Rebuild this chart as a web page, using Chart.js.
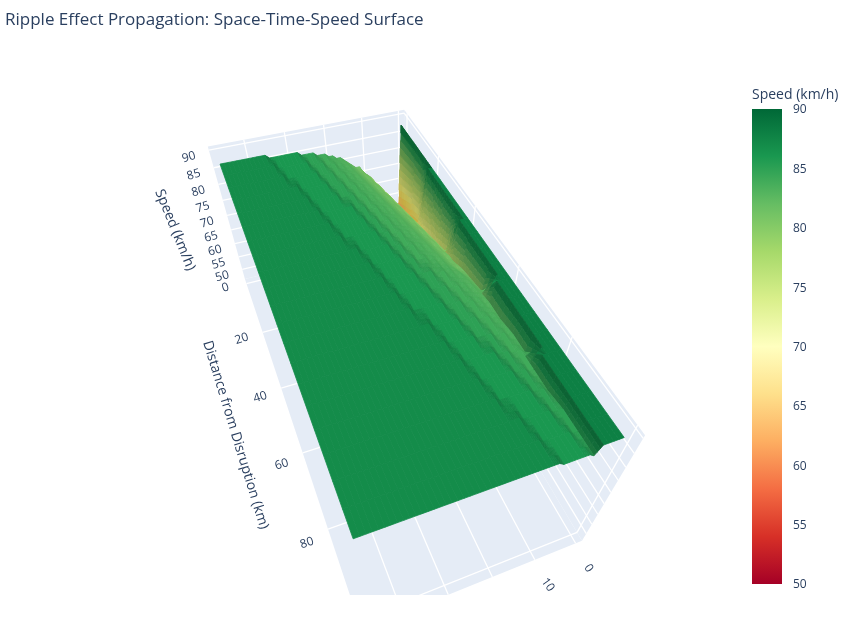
<!DOCTYPE html>
<html><head><meta charset="utf-8">
<script src="https://cdn.jsdelivr.net/npm/chart.js@4"></script>
<style>html,body{margin:0;padding:0;background:#fff;width:851px;height:644px;overflow:hidden}
canvas{position:absolute;display:block}</style></head>
<body>
<canvas id="main" width="851" height="644" style="left:0;top:0;width:851px;height:644px"></canvas>
<canvas id="bar" width="121" height="520" style="left:730px;top:80px;width:121px;height:520px"></canvas>
<script>
const titleText = "Ripple Effect Propagation: Space-Time-Speed Surface";
const colorTitle = "Speed (km/h)";
const distanceTitle = "Distance from Disruption (km)";
const speedTitle = "Speed (km/h)";
const distances = [0,5,10,15,20,25,30,35,40,45,50,55,60,65,70,75,80,85,90,95,100];
const times = [0,1,2,3,4,5,6,7,8,9,10,11,12,13,14,15,16,17,18,19,20,21,22,23,24,25,26,27,28,29,30,31,32,33,34,35,36,37,38,39,40,41,42,43,44,45,46,47];
const distanceTicks = [0,20,40,60,80,100];
const timeTicks = [0,10,20,30,40];
const speedTicks = [50,55,60,65,70,75,80,85,90];
const colorStops = ["#a50026","#d73027","#f46d43","#fdae61","#fee08b","#ffffbf","#d9ef8b","#a6d96a","#66bd63","#1a9850","#006837"];
const speedRange = [50,90];
const speedRows = [
[88,56,59,62,64,67,69,71,72,74,75,76,78,78,79,80,81,82,82,83,83,84,84,84,85,85,85,85, 86,86,86,86,86,86,86,86, 87,87,87,87,87,87,87,87,87,87,87,87],
[88,59,62,64,67,69,71,72,74,75,76,78,78,79,80,81,82,82,83,83,84,84,84,85,85,85,85, 86,86,86,86,86,86,86,86, 87,87,87,87,87,87,87,87,87,87,87,87,87],
[88,62,64,67,69,71,72,74,75,76,78,78,79,80,81,82,82,83,83,84,84,84,85,85,85,85, 86,86,86,86,86,86,86,86, 87,87,87,87,87,87,87,87,87,87,87,87,87,87],
[88,64,67,69,71,72,74,75,76,78,78,79,80,81,82,82,83,83,84,84,84,85,85,85,85, 86,86,86,86,86,86,86, 87,87,87,87,87,87,87,87,87,87,87,87,87,87,87,87],
[88,88,69,71,72,74,75,76,78,78,79,80,81,82,82,83,83,84,84,84,85,85,85,85, 86,86,86,86,86,86,86, 87,87,87,87,87,87,87,87,87,87,87,87,87,87,87,87,87],
[88,88,71,72,74,75,76,78,78,79,80,81,82,82,83,83,84,84,84,85,85,85, 86,86,86,86,86,86,86,86, 87,87,87,87,87,87,87,87,87,87,87,87,87,87,87,87,87,87],
[88,88,72,74,75,76,78,78,79,80,81,82,82,83,83,84,84,84,85,85,85, 86,86,86,86,86,86,86,86, 87,87,87,87,87,87,87,87,87,87,87,87,87,87,87,87,87,87,87],
[88,88,74,75,76,78,78,79,80,81,82,82,83,83,84,84,84,85,85,85, 86,86,86,86,86,86,86,86, 87,87,87,87,87,87,87,87,87,87,87,87,87,87,87,87,87,87,87,87],
[88,88,88,76,78,78,79,80,81,82,82,83,83,84,84,84,85,85,85, 86,86,86,86,86,86,86, 87,87,87,87,87,87,87,87,87,87,87,87,87,87,87,87,87,87,87,87,87,87],
[88,88,88,78,78,79,80,81,82,82,83,83,84,84,84,85,85,85, 86,86,86,86,86,86,86, 87,87,87,87,87,87,87,87,87,87,87,87,87,87,87,87,87,87,87,87,87,87,87],
[88,88,88,79,80,81,82,82,83,83,84,84,84,85,85,85,85, 86,86,86,86,86,86,86, 87,87,87,87,87,87,87,87,87,87,87,87,87,87,87,87,87,87,87,87,87,87,87,87],
[88,88,88,80,81,82,82,83,83,84,84,84,85,85,85,85, 86,86,86,86,86,86,86, 87,87,87,87,87,87,87,87,87,87,87,87,87,87,87,87,87,87,87,87,87,87,87,87,87],
[88,88,88,88,82,82,83,83,84,84,84,85,85,85,85, 86,86,86,86,86,86,86, 87,87,87,87,87,87,87,87,87,87,87,87,87,87,87,87,87,87,87,87,87,87,87,87,87,87],
[88,88,88,88,82,83,83,84,84,84,85,85,85,85, 86,86,86,86,86,86, 87,87,87,87,87,87,87,87,87,87,87,87,87,87,87,87,87,87,87,87,87,87,87,87,87,87,87,87],
[88,88,88,88,83,83,84,84,84,85,85,85,85, 86,86,86,86,86,86, 87,87,87,87,87,87,87,87,87,87,87,87,87,87,87,87,87,87,87,87,87,87,87,87,87,87,87,87,87],
[88,88,88,88,83,84,84,84,85,85,85, 86,86,86,86,86,86,86, 87,87,87,87,87,87,87,87,87,87,87,87,87,87,87,87,87,87,87,87,87,87,87,87,87,87,87,87,87,87],
[88,88,88,88,88,84,84,85,85,85, 86,86,86,86,86,86,86, 87,87,87,87,87,87,87,87,87,87,87,87,87,87,87,87,87,87,87,87,87,87,87,87,87,87,87,87,87,87,87],
[88,88,88,88,88,84,85,85,85, 86,86,86,86,86,86,86, 87,87,87,87,87,87,87,87,87,87,87,87,87,87,87,87,87,87,87,87,87,87,87,87,87,87,87,87,87,87,87,87],
[88,88,88,88,88,85,85,85, 86,86,86,86,86,86, 87,87,87,87,87,87,87,87,87,87,87,87,87,87,87,87,87,87,87,87,87,87,87,87,87,87,87,87,87,87,87,87,87,87],
[88,88,88,88,88,85,85, 86,86,86,86,86,86, 87,87,87,87,87,87,87,87,87,87,87,87,87,87,87,87,87,87,87,87,87,87,87,87,87,87,87,87,87,87,87,87,87,87,87],
[88,88,88,88,88,85, 86,86,86,86,86,86, 87,87,87,87,87,87,87,87,87,87,87,87,87,87,87,87,87,87,87,87,87,87,87,87,87,87,87,87,87,87,87,87,87,87,87,87]
];
// 3D axis box ranges
const boxD = [-2,102], boxT = [-1.6,48.6], boxS = [46,91];
// camera: scene position -> picture position pairs that the projection is fitted to, with a weight
const cameraFit = [
[-2,48.6,91,208,152,1],[-2,48.6,46,246,283,1],[-2,-1.6,91,400,109,1],[102,-1.6,91,645,440,3],[102,-1.6,46,581,542,3],[102,48.6,46,357,627,1],
[0,48.6,46,248,279,2],[20,48.6,46,263,330,2],[40,48.6,46,283,387,2],[60,48.6,46,303,455,2],[80,48.6,46,328,534,2],
[-2,10,91,359,118,1],[-2,20,91,322,127,1],[-2,30,91,283,135,1],[-2,40,91,243,143,1],
[102,10,46,533,560,1],[102,20,46,491,578,1],[102,30,46,445,593,1],[-2,48.6,50,243,272,1],[-2,48.6,90,211,156,1],
[0,47,87,218,162,6],[100,47,87,355,538,6],[100,0,88,625,434,6],[0,0,88,403,125,6]];

function norm(d,t,s){return [d/100,t/50,(s-70)/20];}
function fitCamera(){
  const n=11, A=Array.from({length:n},()=>new Array(n+1).fill(0));
  const add=(row,v,w)=>{for(let i=0;i<n;i++){for(let j=0;j<n;j++)A[i][j]+=w*row[i]*row[j];A[i][n]+=w*row[i]*v;}};
  for(const [d,t,s,u,v,w] of cameraFit){
    const [x,y,z]=norm(d,t,s), U=u/500, V=v/500;
    add([x,y,z,1,0,0,0,0,-U*x,-U*y,-U*z],U,w);
    add([0,0,0,0,x,y,z,1,-V*x,-V*y,-V*z],V,w);
  }
  for(let i=0;i<n;i++){
    let p=i;for(let k=i+1;k<n;k++)if(Math.abs(A[k][i])>Math.abs(A[p][i]))p=k;
    [A[i],A[p]]=[A[p],A[i]];
    for(let k=0;k<n;k++){if(k===i)continue;const f=A[k][i]/A[i][i];for(let j=i;j<=n;j++)A[k][j]-=f*A[i][j];}
  }
  return A.map((r,i)=>r[n]/r[i]);
}
const cam=fitCamera();
function project(d,t,s){
  const [x,y,z]=norm(d,t,s), w=cam[8]*x+cam[9]*y+cam[10]*z+1;
  return {x:500*(cam[0]*x+cam[1]*y+cam[2]*z+cam[3])/w, y:500*(cam[4]*x+cam[5]*y+cam[6]*z+cam[7])/w};
}
function hex(c){return [1,3,5].map(i=>parseInt(c.substr(i,2),16));}
function colorOf(s){
  const f=Math.max(0,Math.min(1,(s-speedRange[0])/(speedRange[1]-speedRange[0])))*(colorStops.length-1);
  const i=Math.min(colorStops.length-2,Math.floor(f)),a=hex(colorStops[i]),b=hex(colorStops[i+1]);
  return a.map((v,k)=>v+(b[k]-v)*(f-i));
}
const clamp=(v)=>Math.max(0,Math.min(1,v));
function shaded(s,dsdd,dsdt){
  const zx=dsdd*104/45, zy=dsdt*50/45;
  let c;
  if(zy<-1.5){ // faces the camera: the steep valley wall
    c=colorOf(s);
    const nz2=1/(1+zx*zx+zy*zy);
    const sh=0.72+0.26*nz2+0.12*clamp((72-s)/12);
    const blue=0.78-0.28*clamp((80-s)/10)+0.25*clamp((66-s)/8);
    c=[c[0]*sh,c[1]*sh,c[2]*Math.min(sh,blue)];
    const wash=Math.min(0.3,0.035*Math.max(0,66-s));
    c=c.map((v,k)=>v+([225,205,170][k]-v)*wash);
  }else{
    // the far slope is seen at a grazing angle, so its light greens stay close to the ridge colour
    c=colorOf(s<84?84-(84-s)*0.45:s);
    const g=Math.sqrt(zx*zx+Math.max(zy,0)*Math.max(zy,0));
    const amount=0.05+0.12*clamp((s-83)/2.5);
    const sh=g<1.1?1-amount*g/1.1:1-amount+amount*clamp((g-1.1)/1.5);
    c=c.map(v=>v*sh);
  }
  return `rgb(${c.map(v=>Math.round(v)).join(",")})`;
}
const painted=[];
function poly(pts,color,bw){
  painted.push({data:[...pts,pts[0]],showLine:true,fill:'shape',backgroundColor:color,borderColor:color,borderWidth:bw,pointRadius:0,tension:0});
}
function seg(a,b){
  painted.push({data:[a,b],showLine:true,fill:false,borderColor:"#ffffff",borderWidth:1.3,pointRadius:0,tension:0});
}
const [D0,D1]=boxD,[T0,T1]=boxT,[S0,S1]=boxS;
const paneColor="#E5ECF6";
poly([project(D0,T1,S0),project(D1,T1,S0),project(D1,T0,S0),project(D0,T0,S0)],paneColor,0);
poly([project(D0,T1,S0),project(D0,T1,S1),project(D0,T0,S1),project(D0,T0,S0)],paneColor,0);
poly([project(D0,T0,S0),project(D0,T0,S1),project(D1,T0,S1),project(D1,T0,S0)],paneColor,0);
for(const d of distanceTicks){seg(project(d,T1,S0),project(d,T0,S0));seg(project(d,T0,S0),project(d,T0,S1));}
for(const t of timeTicks){seg(project(D0,t,S0),project(D1,t,S0));seg(project(D0,t,S0),project(D0,t,S1));}
for(const s of speedTicks){seg(project(D0,T1,s),project(D0,T0,s));seg(project(D0,T0,s),project(D1,T0,s));}
// surface cells, far to near
for(let r=0;r<distances.length-1;r++){
  for(let c=0;c<times.length-1;c++){
    const a=speedRows[r][c],b=speedRows[r][c+1],e=speedRows[r+1][c],f=speedRows[r+1][c+1];
    const range=Math.max(a,b,e,f)-Math.min(a,b,e,f);
    const N=range===0?1:Math.max(3,Math.min(14,Math.ceil(range/2))), M=range===0?1:Math.max(3,Math.ceil(N/2));
    const dd=distances[r+1]-distances[r], dt=times[c+1]-times[c];
    const val=(u,v)=>a*(1-u)*(1-v)+b*(1-u)*v+e*u*(1-v)+f*u*v;
    for(let i=0;i<M;i++)for(let j=0;j<N;j++){
      const u0=i/M,u1=(i+1)/M,v0=j/N,v1=(j+1)/N;
      const s00=val(u0,v0),s01=val(u0,v1),s10=val(u1,v0),s11=val(u1,v1);
      const P=(u,v,s)=>project(distances[r]+dd*u,times[c]+dt*v,s);
      const slopeD=((s10+s11)-(s00+s01))/2/((u1-u0)*dd), slopeT=((s01+s11)-(s00+s10))/2/((v1-v0)*dt);
      poly([P(u0,v0,s00),P(u0,v1,s01),P(u1,v1,s11),P(u1,v0,s10)],shaded((s00+s01+s10+s11)/4,slopeD,slopeT),0.8);
    }
  }
}
const labelPlugin={id:'sceneLabels',afterDraw(chart){
  const ctx=chart.ctx;ctx.save();
  ctx.beginPath();ctx.rect(0,0,851,595);ctx.clip();
  ctx.fillStyle="#2a3f5f";ctx.textAlign="center";ctx.textBaseline="middle";
  const put=(txt,x,y,rot,size)=>{ctx.save();ctx.translate(x,y);ctx.rotate(rot*Math.PI/180);ctx.font=size+'px "Open Sans"';ctx.fillText(txt,0,0);ctx.restore();};
  for(const s of speedTicks){const p=project(D0,T1,s);put(String(s),p.x-20,p.y+7,-16,12);}
  for(const d of distanceTicks){const p=project(d,T1,S0);const y=p.y+8+(d-32)*0.125;if(y<590)put(String(d),p.x-21,y,-18,12);}
  for(const t of timeTicks){const p=project(D1,t,S0);if(p.y+25<592)put(String(t),p.x+13,p.y+25,55,12);}
  put(speedTitle,175,230,68,14);
  put(distanceTitle,235.5,435,73,14);
  ctx.restore();
}};
const titleH=10+17*1.2;
new Chart(document.getElementById('main'),{
  type:'scatter',
  data:{datasets:painted.slice().reverse()},
  plugins:[labelPlugin],
  options:{responsive:false,animation:false,devicePixelRatio:1,events:[],
    layout:{padding:{left:5,right:0,top:0,bottom:49}},
    plugins:{legend:{display:false},tooltip:{enabled:false},
      title:{display:true,text:titleText,align:'start',color:"#2a3f5f",font:{family:'"Open Sans"',size:17,weight:'normal'},padding:{top:10,bottom:0}}},
    scales:{x:{type:'linear',display:false,min:5,max:851},y:{type:'linear',display:false,reverse:true,min:titleH,max:595}}
  }
});
const barCanvas=document.getElementById('bar');
const grad=barCanvas.getContext('2d').createLinearGradient(0,504,0,29);
colorStops.forEach((c,i)=>grad.addColorStop(i/(colorStops.length-1),c));
new Chart(barCanvas,{
  type:'bar',
  data:{labels:[colorTitle],datasets:[{data:[speedRange],backgroundColor:grad,barPercentage:1,categoryPercentage:1,borderWidth:0,borderSkipped:false}]},
  options:{responsive:false,animation:false,devicePixelRatio:1,events:[],
    layout:{padding:{left:22,right:0,top:0,bottom:16}},
    plugins:{legend:{display:false},tooltip:{enabled:false},
      title:{display:true,text:colorTitle,align:'start',color:"#2a3f5f",font:{family:'"Open Sans"',size:14,weight:'normal'},padding:{top:7,bottom:5.2}}},
    scales:{x:{display:false},
      y:{position:'right',min:speedRange[0],max:speedRange[1],grid:{display:false},border:{display:false},
        afterFit(s){s.width=69;},
        ticks:{stepSize:5,color:"#2a3f5f",font:{family:'"Open Sans"',size:12,lineHeight:'2px'},padding:3,callback:(v)=>['',String(v)]}}}
  }
});
</script>
</body></html>
